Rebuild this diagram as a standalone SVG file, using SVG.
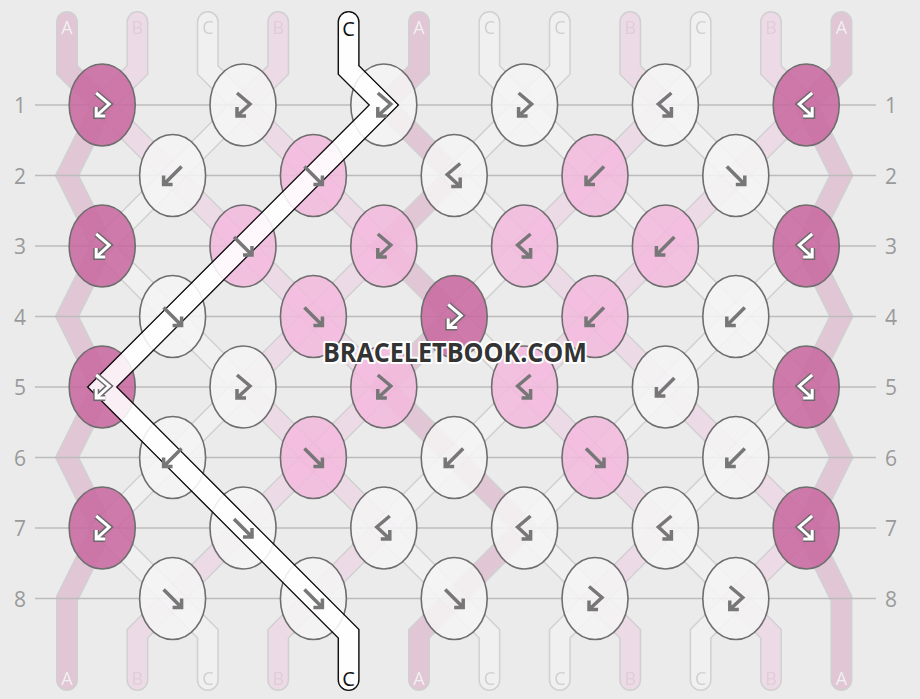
<svg xmlns="http://www.w3.org/2000/svg" xmlns:xlink="http://www.w3.org/1999/xlink" width="920" height="699" viewBox="0 0 920 699">
<style>
.o{fill:none;stroke:#8a8a8a;stroke-width:22;stroke-linecap:round;stroke-linejoin:miter}
.iA,.iB,.iC{fill:none;stroke-width:19;stroke-linecap:round;stroke-linejoin:miter}
.iA{stroke:#c8689f}.iB{stroke:#f2b3d9}.iC{stroke:#ffffff}
.faint{opacity:0.27}
.sl{font-family:"Open Sans","Liberation Sans",sans-serif;font-size:18px;text-anchor:middle}
.rl{stroke:#bcbcbc;stroke-width:1.5}
.rn{font-family:"Open Sans","Liberation Sans",sans-serif;font-size:21px;fill:#9a9a9a;text-anchor:middle}
.k{stroke:#6e6e6e;stroke-width:1.6;fill-opacity:0.86}
.kA{fill:#c8689f}.kB{fill:#f3b9dd}.kC{fill:#f4f4f4}
.arw{fill:none;stroke:#777;stroke-width:3.5;stroke-linejoin:miter}
.arwo{fill:none;stroke:#6a6a6a;stroke-width:6;stroke-linejoin:miter}
.arwi{fill:none;stroke:#fff;stroke-width:3;stroke-linejoin:miter}
.hlo{fill:none;stroke:#111;stroke-width:22;stroke-linecap:round;stroke-linejoin:miter}
.hli{fill:none;stroke:#fff;stroke-opacity:0.88;stroke-width:19;stroke-linecap:round;stroke-linejoin:miter}
.hlt{font-family:"Open Sans","Liberation Sans",sans-serif;font-size:20px;fill:#111;text-anchor:middle}
.wm{font-family:"Open Sans","Liberation Sans",sans-serif;font-weight:bold;font-size:26px;fill:#333;stroke:#fff;stroke-width:4;paint-order:stroke;stroke-linejoin:round}
</style>
<defs>
<polyline id="s0" points="67,22 67,70 102.2,105 67,175.5 102.2,246 67,316.5 102.2,387 67,457.5 102.2,528 67,598.5 67,633.7 67,680"/>
<polyline id="s1" points="137.4,22 137.4,70 102.2,105 172.6,175.5 243,246 313.4,316.5 383.8,387 313.4,457.5 243,528 172.6,598.5 137.4,633.7 137.4,680"/>
<polyline id="s2" points="207.8,22 207.8,70 243,105 172.6,175.5 102.2,246 172.6,316.5 243,387 172.6,457.5 102.2,528 172.6,598.5 207.8,633.7 207.8,680"/>
<polyline id="s3" points="278.2,22 278.2,70 243,105 313.4,175.5 383.8,246 313.4,316.5 243,387 313.4,457.5 383.8,528 313.4,598.5 278.2,633.7 278.2,680"/>
<polyline id="s4" points="348.6,22 348.6,70 383.8,105 313.4,175.5 243,246 172.6,316.5 102.2,387 172.6,457.5 243,528 313.4,598.5 348.6,633.7 348.6,680"/>
<polyline id="s5" points="419,22 419,70 383.8,105 454.2,175.5 383.8,246 454.2,316.5 383.8,387 454.2,457.5 524.6,528 454.2,598.5 419,633.7 419,680"/>
<polyline id="s6" points="489.4,22 489.4,70 524.6,105 454.2,175.5 524.6,246 454.2,316.5 524.6,387 454.2,457.5 383.8,528 454.2,598.5 489.4,633.7 489.4,680"/>
<polyline id="s7" points="559.8,22 559.8,70 524.6,105 595,175.5 665.4,246 735.8,316.5 806.2,387 735.8,457.5 665.4,528 735.8,598.5 700.6,633.7 700.6,680"/>
<polyline id="s8" points="630.2,22 630.2,70 665.4,105 595,175.5 524.6,246 595,316.5 665.4,387 735.8,457.5 806.2,528 735.8,598.5 771,633.7 771,680"/>
<polyline id="s9" points="700.6,22 700.6,70 665.4,105 735.8,175.5 806.2,246 735.8,316.5 665.4,387 595,457.5 524.6,528 595,598.5 559.8,633.7 559.8,680"/>
<polyline id="s10" points="771,22 771,70 806.2,105 735.8,175.5 665.4,246 595,316.5 524.6,387 595,457.5 665.4,528 595,598.5 630.2,633.7 630.2,680"/>
<polyline id="s11" points="841.4,22 841.4,70 806.2,105 841.4,175.5 806.2,246 841.4,316.5 806.2,387 841.4,457.5 806.2,528 841.4,598.5 841.4,680"/>
<path id="af" d="M-9,-9 L9,9 M9,0 L9,9 L0,9"/>
<path id="ab" d="M9,-9 L-9,9 M-9,0 L-9,9 L0,9"/>
<path id="afb" d="M-6,-12 L7,-1 L-6,11 M-6,2 L-6,11 L3,11"/>
<path id="abf" d="M6,-12 L-7,-1 L6,11 M6,2 L6,11 L-3,11"/>
<mask id="hm" maskUnits="userSpaceOnUse" x="0" y="0" width="920" height="699">
<rect x="0" y="0" width="920" height="699" fill="#fff"/>
<use href="#s4" fill="none" stroke="#000" stroke-width="19" stroke-linecap="round" stroke-linejoin="miter"/>
</mask>
</defs>
<rect x="0" y="0" width="920" height="699" fill="#ebebeb"/>

<g id="strings">
<g class="faint"><use href="#s0" class="o"/><use href="#s0" class="iA"/><text class="sl" x="67" y="34" fill="#fff">A</text><text class="sl" x="67" y="685" fill="#fff">A</text></g>
<g class="faint"><use href="#s1" class="o"/><use href="#s1" class="iB"/><text class="sl" x="137.4" y="34" fill="#c77aa7">B</text><text class="sl" x="137.4" y="685" fill="#c77aa7">B</text></g>
<g class="faint"><use href="#s2" class="o"/><use href="#s2" class="iC"/><text class="sl" x="207.8" y="34" fill="#888">C</text><text class="sl" x="207.8" y="685" fill="#888">C</text></g>
<g class="faint"><use href="#s3" class="o"/><use href="#s3" class="iB"/><text class="sl" x="278.2" y="34" fill="#c77aa7">B</text><text class="sl" x="278.2" y="685" fill="#c77aa7">B</text></g>
<g class="faint"><use href="#s4" class="o"/><use href="#s4" class="iC"/></g>
<g class="faint"><use href="#s5" class="o"/><use href="#s5" class="iA"/><text class="sl" x="419" y="34" fill="#fff">A</text><text class="sl" x="419" y="685" fill="#fff">A</text></g>
<g class="faint"><use href="#s6" class="o"/><use href="#s6" class="iC"/><text class="sl" x="489.4" y="34" fill="#888">C</text><text class="sl" x="489.4" y="685" fill="#888">C</text></g>
<g class="faint"><use href="#s7" class="o"/><use href="#s7" class="iC"/><text class="sl" x="559.8" y="34" fill="#888">C</text><text class="sl" x="700.6" y="685" fill="#888">C</text></g>
<g class="faint"><use href="#s8" class="o"/><use href="#s8" class="iB"/><text class="sl" x="630.2" y="34" fill="#c77aa7">B</text><text class="sl" x="771" y="685" fill="#c77aa7">B</text></g>
<g class="faint"><use href="#s9" class="o"/><use href="#s9" class="iC"/><text class="sl" x="700.6" y="34" fill="#888">C</text><text class="sl" x="559.8" y="685" fill="#888">C</text></g>
<g class="faint"><use href="#s10" class="o"/><use href="#s10" class="iB"/><text class="sl" x="771" y="34" fill="#c77aa7">B</text><text class="sl" x="630.2" y="685" fill="#c77aa7">B</text></g>
<g class="faint"><use href="#s11" class="o"/><use href="#s11" class="iA"/><text class="sl" x="841.4" y="34" fill="#fff">A</text><text class="sl" x="841.4" y="685" fill="#fff">A</text></g>
</g>

<g id="rows">
<line class="rl" x1="35" y1="105" x2="876" y2="105"/>
<line class="rl" x1="35" y1="175.5" x2="876" y2="175.5"/>
<line class="rl" x1="35" y1="246" x2="876" y2="246"/>
<line class="rl" x1="35" y1="316.5" x2="876" y2="316.5"/>
<line class="rl" x1="35" y1="387" x2="876" y2="387"/>
<line class="rl" x1="35" y1="457.5" x2="876" y2="457.5"/>
<line class="rl" x1="35" y1="528" x2="876" y2="528"/>
<line class="rl" x1="35" y1="598.5" x2="876" y2="598.5"/>
<text class="rn" x="20" y="113">1</text><text class="rn" x="891" y="113">1</text>
<text class="rn" x="20" y="183.5">2</text><text class="rn" x="891" y="183.5">2</text>
<text class="rn" x="20" y="254">3</text><text class="rn" x="891" y="254">3</text>
<text class="rn" x="20" y="324.5">4</text><text class="rn" x="891" y="324.5">4</text>
<text class="rn" x="20" y="395">5</text><text class="rn" x="891" y="395">5</text>
<text class="rn" x="20" y="465.5">6</text><text class="rn" x="891" y="465.5">6</text>
<text class="rn" x="20" y="536">7</text><text class="rn" x="891" y="536">7</text>
<text class="rn" x="20" y="606.5">8</text><text class="rn" x="891" y="606.5">8</text>
</g>

<g id="knots">
<g id="k1-1"><ellipse class="k kA" cx="102.2" cy="105" rx="33" ry="41"/></g>
<g id="k1-2"><ellipse class="k kC" cx="243" cy="105" rx="33" ry="41"/></g>
<g id="k1-3"><ellipse class="k kC" cx="383.8" cy="105" rx="33" ry="41"/></g>
<g id="k1-4"><ellipse class="k kC" cx="524.6" cy="105" rx="33" ry="41"/></g>
<g id="k1-5"><ellipse class="k kC" cx="665.4" cy="105" rx="33" ry="41"/></g>
<g id="k1-6"><ellipse class="k kA" cx="806.2" cy="105" rx="33" ry="41"/></g>
<g id="k2-1"><ellipse class="k kC" cx="172.6" cy="175.5" rx="33" ry="41"/></g>
<g id="k2-2"><ellipse class="k kB" cx="313.4" cy="175.5" rx="33" ry="41"/></g>
<g id="k2-3"><ellipse class="k kC" cx="454.2" cy="175.5" rx="33" ry="41"/></g>
<g id="k2-4"><ellipse class="k kB" cx="595" cy="175.5" rx="33" ry="41"/></g>
<g id="k2-5"><ellipse class="k kC" cx="735.8" cy="175.5" rx="33" ry="41"/></g>
<g id="k3-1"><ellipse class="k kA" cx="102.2" cy="246" rx="33" ry="41"/></g>
<g id="k3-2"><ellipse class="k kB" cx="243" cy="246" rx="33" ry="41"/></g>
<g id="k3-3"><ellipse class="k kB" cx="383.8" cy="246" rx="33" ry="41"/></g>
<g id="k3-4"><ellipse class="k kB" cx="524.6" cy="246" rx="33" ry="41"/></g>
<g id="k3-5"><ellipse class="k kB" cx="665.4" cy="246" rx="33" ry="41"/></g>
<g id="k3-6"><ellipse class="k kA" cx="806.2" cy="246" rx="33" ry="41"/></g>
<g id="k4-1"><ellipse class="k kC" cx="172.6" cy="316.5" rx="33" ry="41"/></g>
<g id="k4-2"><ellipse class="k kB" cx="313.4" cy="316.5" rx="33" ry="41"/></g>
<g id="k4-3"><ellipse class="k kA" cx="454.2" cy="316.5" rx="33" ry="41"/></g>
<g id="k4-4"><ellipse class="k kB" cx="595" cy="316.5" rx="33" ry="41"/></g>
<g id="k4-5"><ellipse class="k kC" cx="735.8" cy="316.5" rx="33" ry="41"/></g>
<g id="k5-1"><ellipse class="k kA" cx="102.2" cy="387" rx="33" ry="41"/></g>
<g id="k5-2"><ellipse class="k kC" cx="243" cy="387" rx="33" ry="41"/></g>
<g id="k5-3"><ellipse class="k kB" cx="383.8" cy="387" rx="33" ry="41"/></g>
<g id="k5-4"><ellipse class="k kB" cx="524.6" cy="387" rx="33" ry="41"/></g>
<g id="k5-5"><ellipse class="k kC" cx="665.4" cy="387" rx="33" ry="41"/></g>
<g id="k5-6"><ellipse class="k kA" cx="806.2" cy="387" rx="33" ry="41"/></g>
<g id="k6-1"><ellipse class="k kC" cx="172.6" cy="457.5" rx="33" ry="41"/></g>
<g id="k6-2"><ellipse class="k kB" cx="313.4" cy="457.5" rx="33" ry="41"/></g>
<g id="k6-3"><ellipse class="k kC" cx="454.2" cy="457.5" rx="33" ry="41"/></g>
<g id="k6-4"><ellipse class="k kB" cx="595" cy="457.5" rx="33" ry="41"/></g>
<g id="k6-5"><ellipse class="k kC" cx="735.8" cy="457.5" rx="33" ry="41"/></g>
<g id="k7-1"><ellipse class="k kA" cx="102.2" cy="528" rx="33" ry="41"/></g>
<g id="k7-2"><ellipse class="k kC" cx="243" cy="528" rx="33" ry="41"/></g>
<g id="k7-3"><ellipse class="k kC" cx="383.8" cy="528" rx="33" ry="41"/></g>
<g id="k7-4"><ellipse class="k kC" cx="524.6" cy="528" rx="33" ry="41"/></g>
<g id="k7-5"><ellipse class="k kC" cx="665.4" cy="528" rx="33" ry="41"/></g>
<g id="k7-6"><ellipse class="k kA" cx="806.2" cy="528" rx="33" ry="41"/></g>
<g id="k8-1"><ellipse class="k kC" cx="172.6" cy="598.5" rx="33" ry="41"/></g>
<g id="k8-2"><ellipse class="k kC" cx="313.4" cy="598.5" rx="33" ry="41"/></g>
<g id="k8-3"><ellipse class="k kC" cx="454.2" cy="598.5" rx="33" ry="41"/></g>
<g id="k8-4"><ellipse class="k kC" cx="595" cy="598.5" rx="33" ry="41"/></g>
<g id="k8-5"><ellipse class="k kC" cx="735.8" cy="598.5" rx="33" ry="41"/></g>
</g>

<g id="highlight">
<use href="#s4" class="hlo" mask="url(#hm)"/>
<use href="#s4" class="hli"/>
<text class="hlt" x="348.6" y="36">C</text>
<text class="hlt" x="348.6" y="686">C</text>
</g>

<g id="arrows">
<use href="#afb" class="arwo" x="102.2" y="105"/><use href="#afb" class="arwi" x="102.2" y="105"/>
<use href="#afb" class="arw" x="243" y="105"/>
<use href="#afb" class="arw" x="383.8" y="105"/>
<use href="#afb" class="arw" x="524.6" y="105"/>
<use href="#abf" class="arw" x="665.4" y="105"/>
<use href="#abf" class="arwo" x="806.2" y="105"/><use href="#abf" class="arwi" x="806.2" y="105"/>

<use href="#ab" class="arw" x="172.6" y="175.5"/>
<use href="#af" class="arw" x="313.4" y="175.5"/>
<use href="#abf" class="arw" x="454.2" y="175.5"/>
<use href="#ab" class="arw" x="595" y="175.5"/>
<use href="#af" class="arw" x="735.8" y="175.5"/>

<use href="#afb" class="arwo" x="102.2" y="246"/><use href="#afb" class="arwi" x="102.2" y="246"/>
<use href="#af" class="arw" x="243" y="246"/>
<use href="#afb" class="arw" x="383.8" y="246"/>
<use href="#abf" class="arw" x="524.6" y="246"/>
<use href="#ab" class="arw" x="665.4" y="246"/>
<use href="#abf" class="arwo" x="806.2" y="246"/><use href="#abf" class="arwi" x="806.2" y="246"/>

<use href="#af" class="arw" x="172.6" y="316.5"/>
<use href="#af" class="arw" x="313.4" y="316.5"/>
<use href="#afb" class="arwo" x="454.2" y="316.5"/><use href="#afb" class="arwi" x="454.2" y="316.5"/>
<use href="#ab" class="arw" x="595" y="316.5"/>
<use href="#ab" class="arw" x="735.8" y="316.5"/>

<use href="#afb" class="arwo" x="102.2" y="387"/><use href="#afb" class="arwi" x="102.2" y="387"/>
<use href="#afb" class="arw" x="243" y="387"/>
<use href="#afb" class="arw" x="383.8" y="387"/>
<use href="#abf" class="arw" x="524.6" y="387"/>
<use href="#ab" class="arw" x="665.4" y="387"/>
<use href="#abf" class="arwo" x="806.2" y="387"/><use href="#abf" class="arwi" x="806.2" y="387"/>

<use href="#ab" class="arw" x="172.6" y="457.5"/>
<use href="#af" class="arw" x="313.4" y="457.5"/>
<use href="#ab" class="arw" x="454.2" y="457.5"/>
<use href="#af" class="arw" x="595" y="457.5"/>
<use href="#ab" class="arw" x="735.8" y="457.5"/>

<use href="#afb" class="arwo" x="102.2" y="528"/><use href="#afb" class="arwi" x="102.2" y="528"/>
<use href="#af" class="arw" x="243" y="528"/>
<use href="#abf" class="arw" x="383.8" y="528"/>
<use href="#abf" class="arw" x="524.6" y="528"/>
<use href="#abf" class="arw" x="665.4" y="528"/>
<use href="#abf" class="arwo" x="806.2" y="528"/><use href="#abf" class="arwi" x="806.2" y="528"/>

<use href="#af" class="arw" x="172.6" y="598.5"/>
<use href="#af" class="arw" x="313.4" y="598.5"/>
<use href="#af" class="arw" x="454.2" y="598.5"/>
<use href="#afb" class="arw" x="595" y="598.5"/>
<use href="#afb" class="arw" x="735.8" y="598.5"/>
</g>

<text class="wm" x="455" y="362" text-anchor="middle" textLength="264" lengthAdjust="spacingAndGlyphs">BRACELETBOOK.COM</text>
</svg>
